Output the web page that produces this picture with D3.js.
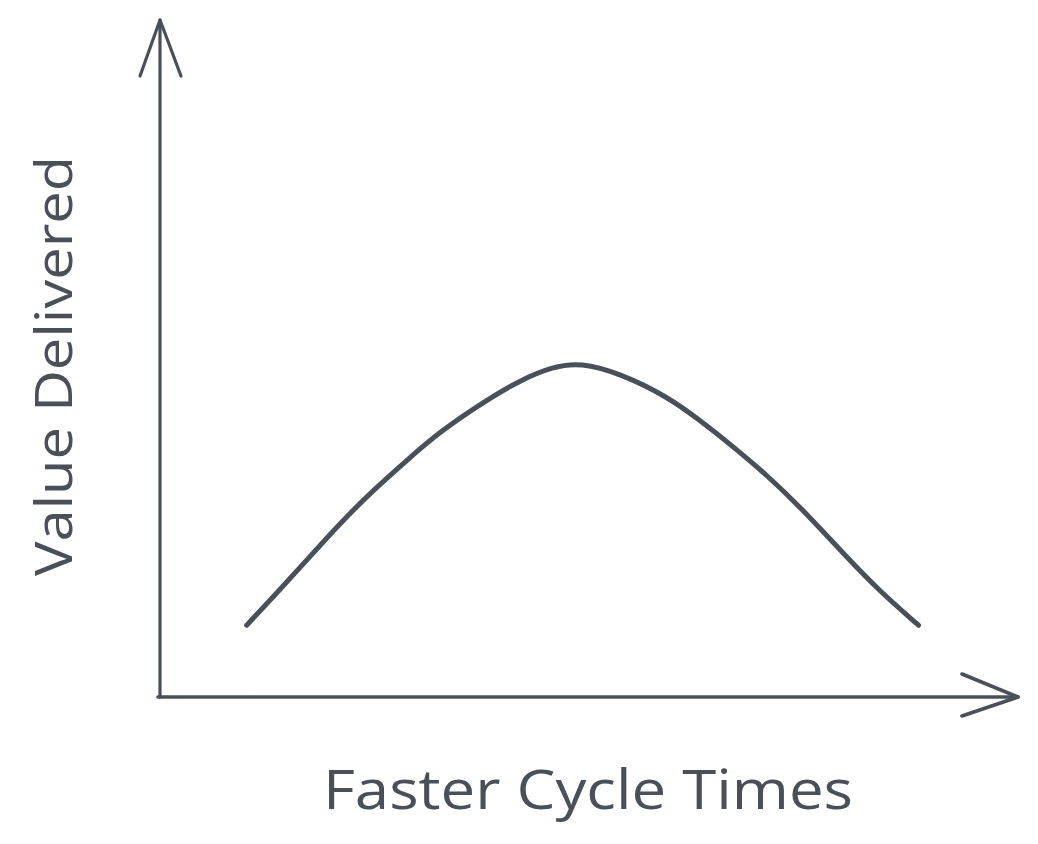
<!DOCTYPE html>
<html>
<head>
<meta charset="utf-8">
<script src="https://cdn.jsdelivr.net/npm/d3@7"></script>
<style>
  body { margin: 0; background: #ffffff; }
  svg { display: block; }
</style>
</head>
<body>
<svg width="1038" height="844"></svg>
<script>
// curve (arbitrary 0-100 units on both axes)
const cycleSpeed = [10.1, 13.2, 17.1, 21.0, 24.9, 28.8, 32.6, 38.1, 42.0, 45.8, 49.0,
                    53.6, 59.1, 62.9, 66.8, 70.7, 74.6, 80.0, 83.9, 88.4];
const valueDelivered = [10.6, 14.8, 20.2, 25.7, 30.6, 35.0, 39.2, 43.9, 46.8, 48.8, 49.4,
                        47.8, 44.4, 40.9, 37.0, 32.8, 28.1, 20.7, 15.6, 10.6];
const xLabel = "Faster Cycle Times";
const yLabel = "Value Delivered";

const INK = "#495057";

const main = function() {
  const svg = d3.select("svg");

  const x = d3.scaleLinear().domain([0, 100]).range([160, 1018]);
  const y = d3.scaleLinear().domain([0, 100]).range([697, 20]);

  const data = cycleSpeed.map((d, i) => ({ x: d, y: valueDelivered[i] }));

  const ink = svg.append("g")
    .attr("fill", "none")
    .attr("stroke", INK)
    .attr("stroke-linecap", "round")
    .attr("stroke-linejoin", "round");

  // y axis with arrow head
  ink.append("line")
    .attr("x1", x(0)).attr("y1", y(0))
    .attr("x2", x(0)).attr("y2", y(100))
    .attr("stroke-width", 3.2);
  ink.append("path")
    .attr("d", `M${x(0) - 20},${y(100) + 56} L${x(0)},${y(100)} L${x(0) + 21},${y(100) + 56}`)
    .attr("stroke-width", 3.2);

  // x axis with arrow head
  ink.append("line")
    .attr("x1", x(0) - 2).attr("y1", y(0))
    .attr("x2", x(100)).attr("y2", y(0))
    .attr("stroke-width", 3.6);
  ink.append("path")
    .attr("d", `M${x(100) - 56},${y(0) - 23} L${x(100)},${y(0)} L${x(100) - 56},${y(0) + 19}`)
    .attr("stroke-width", 3.6);

  // the bell curve
  const line = d3.line()
    .x(d => x(d.x))
    .y(d => y(d.y))
    .curve(d3.curveBasis);

  ink.append("path")
    .datum(data)
    .attr("d", line)
    .attr("stroke-width", 5);

  // labels
  svg.append("text")
    .attr("x", 588)
    .attr("y", 809)
    .attr("text-anchor", "middle")
    .attr("font-family", "'Open Sans', sans-serif")
    .attr("font-size", 54)
    .attr("fill", INK)
    .attr("textLength", 530)
    .attr("lengthAdjust", "spacingAndGlyphs")
    .text(xLabel);

  svg.append("text")
    .attr("transform", "translate(72,366) rotate(-90)")
    .attr("text-anchor", "middle")
    .attr("font-family", "'Open Sans', sans-serif")
    .attr("font-size", 52)
    .attr("fill", INK)
    .attr("textLength", 420)
    .attr("lengthAdjust", "spacingAndGlyphs")
    .text(yLabel);
};

window.onload = main;
</script>
</body>
</html>
